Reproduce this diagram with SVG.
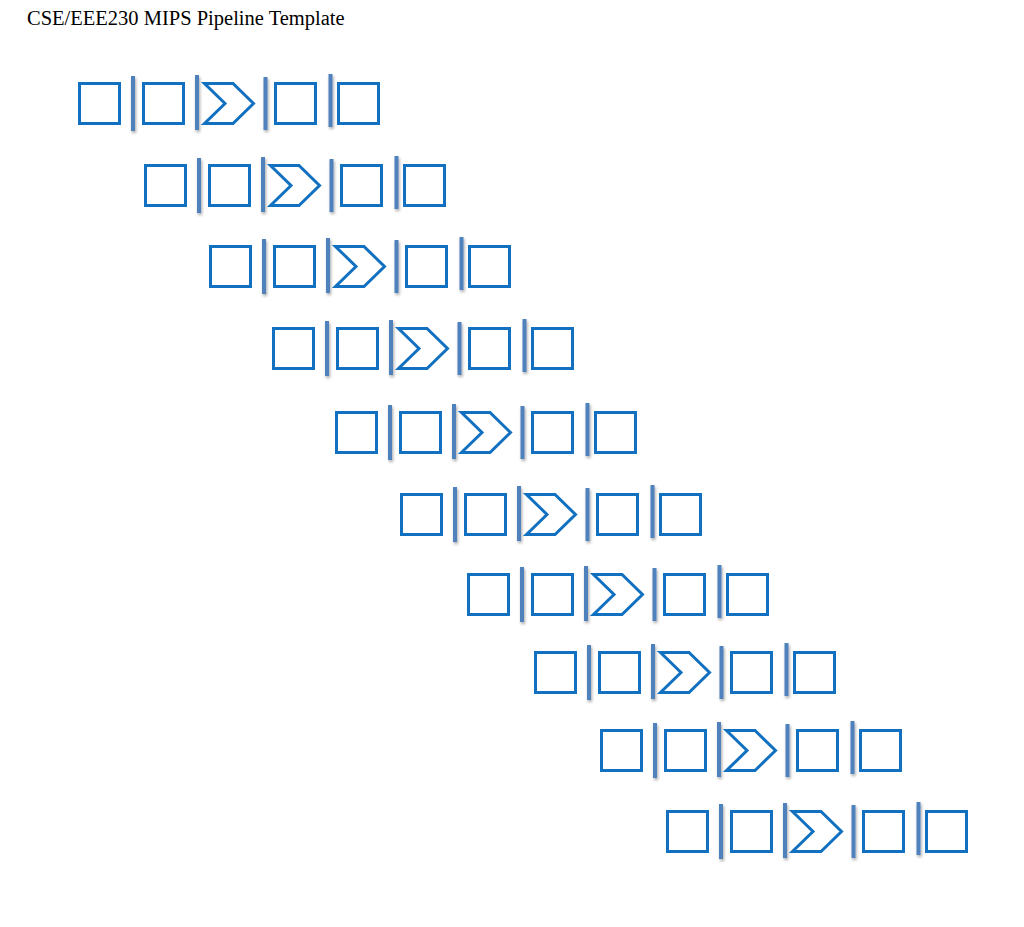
<svg xmlns="http://www.w3.org/2000/svg" xmlns:xlink="http://www.w3.org/1999/xlink" width="1024" height="927" viewBox="0 0 1024 927">
<style>
.box{fill:none;stroke:#1170C0;stroke-width:3}
.bar{fill:#4F81BD;filter:url(#sh)}
.title{font-family:"Liberation Serif","Times New Roman",serif;font-size:20.5px;fill:#000}
</style>
<defs>
<filter id="sh" x="-200%" y="-20%" width="500%" height="150%">
<feDropShadow dx="1" dy="2" stdDeviation="1.4" flood-color="#000" flood-opacity="0.35"/>
</filter>
<g id="stage">
<rect class="box" x="1.5" y="1.5" width="40" height="40"/>
<rect class="bar" x="53" y="-6" width="4" height="55"/>
<rect class="box" x="65.5" y="1.5" width="40" height="40"/>
<rect class="bar" x="117" y="-7" width="4" height="55"/>
<polygon class="box" points="126.5,1.5 155,1.5 175.5,21.5 155,41.5 126.5,41.5 147,21.5"/>
<rect class="bar" x="185.5" y="-5" width="4" height="53"/>
<rect class="box" x="197.5" y="1.5" width="40" height="40"/>
<rect class="bar" x="250.5" y="-8" width="4" height="53"/>
<rect class="box" x="260.5" y="1.5" width="40" height="40"/>
</g>
</defs>
<rect width="1024" height="927" fill="#fff"/>
<text class="title" x="27" y="25">CSE/EEE230 MIPS Pipeline Template</text>
<g id="connectors"/>
<g id="row1"><use xlink:href="#stage" x="78" y="82"/></g>
<g id="row2"><use xlink:href="#stage" x="144" y="164"/></g>
<g id="row3"><use xlink:href="#stage" x="209" y="245"/></g>
<g id="row4"><use xlink:href="#stage" x="272" y="327"/></g>
<g id="row5"><use xlink:href="#stage" x="335" y="411"/></g>
<g id="row6"><use xlink:href="#stage" x="400" y="493"/></g>
<g id="row7"><use xlink:href="#stage" x="467" y="573"/></g>
<g id="row8"><use xlink:href="#stage" x="534" y="651"/></g>
<g id="row9"><use xlink:href="#stage" x="600" y="729"/></g>
<g id="row10"><use xlink:href="#stage" x="666" y="810"/></g>
</svg>
